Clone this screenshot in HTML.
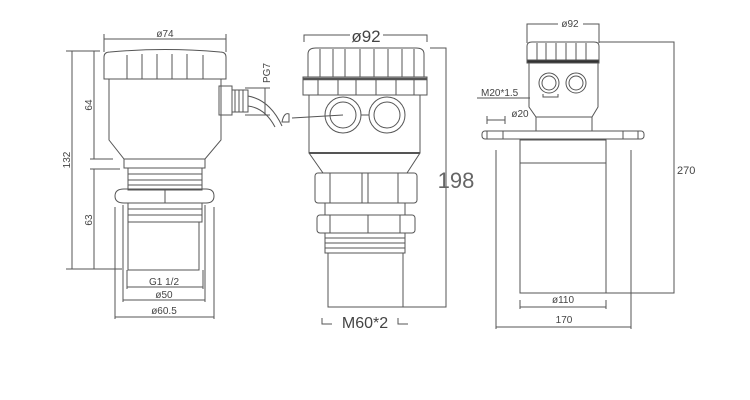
<!DOCTYPE html>
<html><head><meta charset="utf-8"><style>
html,body{margin:0;padding:0;background:#fff;width:750px;height:400px;overflow:hidden}
svg{display:block}
text{font-family:"Liberation Sans",sans-serif;fill:#444}
</style></head><body>
<svg width="750" height="400" viewBox="0 0 750 400" xmlns="http://www.w3.org/2000/svg">
<g fill="none" stroke="#555" stroke-width="1">
<!-- ===== Drawing 1 ===== -->
<line x1="104" y1="39" x2="226" y2="39"/><line x1="104" y1="34" x2="104" y2="52"/><line x1="226" y1="34" x2="226" y2="52"/>
<path d="M104 57 Q104 52 110 52 Q165 47 220 52 Q226 52 226 57 L226 79 L104 79 Z"/>
<path d="M127 55V79M142 54V79M157 54V79M172 54V79M187 54V79M203 55V79"/>
<path d="M109 79 L109 140 L124 159 L205 159 L221 140 L221 79"/>
<rect x="124" y="159" width="81" height="9"/>
<rect x="128" y="168" width="74" height="22"/>
<path d="M128 174H202M128 180H202M128 185H202"/>
<path d="M115 196 Q115 189 124 189 L206 189 Q214 189 214 196 Q214 203 206 203 L124 203 Q115 203 115 196 Z"/>
<line x1="165" y1="189" x2="165" y2="203"/>
<rect x="128" y="203" width="74" height="19"/>
<path d="M128 209H202M128 215H202"/>
<rect x="128" y="222" width="71" height="48"/>
<rect x="219" y="86" width="13" height="29"/>
<rect x="232" y="90" width="16" height="22"/>
<path d="M235 90V112M239 90V112M243 90V112"/>
<path d="M248 96 Q270 100 282 126 M248 106 Q265 108 275 127"/>
<line x1="245" y1="88" x2="270" y2="88"/><line x1="245" y1="115" x2="270" y2="115"/><line x1="265" y1="88" x2="265" y2="115"/>
<line x1="72" y1="51" x2="72" y2="269"/><line x1="66" y1="51" x2="100" y2="51"/><line x1="66" y1="269" x2="122" y2="269"/>
<line x1="94" y1="51" x2="94" y2="159"/><line x1="94" y1="169" x2="94" y2="269"/>
<line x1="90" y1="159" x2="113" y2="159"/><line x1="90" y1="169" x2="120" y2="169"/>
<line x1="127" y1="287" x2="203" y2="287"/><line x1="127" y1="270" x2="127" y2="289"/><line x1="203" y1="270" x2="203" y2="289"/>
<line x1="123" y1="300" x2="205" y2="300"/><line x1="123" y1="205" x2="123" y2="302"/><line x1="205" y1="205" x2="205" y2="302"/>
<line x1="115" y1="317" x2="214" y2="317"/><line x1="115" y1="207" x2="115" y2="319"/><line x1="214" y1="207" x2="214" y2="319"/>
<!-- ===== Drawing 2 ===== -->
<path d="M304 42V35H350M383 35H427V42"/>
<path d="M308 77 L308 54 Q308 48 316 48 L416 48 Q424 48 424 54 L424 77"/>
<path d="M320 49V77M333 49V77M345 49V77M360 49V77M374 49V77M388 49V77M402 49V77M414 49V77"/>
<rect x="303" y="77" width="124" height="18"/>
<line x1="303" y1="79" x2="427" y2="79" stroke-width="2.5"/>
<path d="M318 80V95M338 80V95M356 80V95M376 80V95M396 80V95M414 80V95"/>
<path d="M309 95V153H420V95"/>
<line x1="309" y1="153" x2="420" y2="153" stroke-width="2"/>
<circle cx="343" cy="115" r="18"/><circle cx="343" cy="115" r="13"/>
<circle cx="387" cy="115" r="18"/><circle cx="387" cy="115" r="13"/>
<line x1="361" y1="115" x2="369" y2="115"/>
<path d="M309 153 L323 173 M420 153 L407 173"/>
<rect x="315" y="173" width="102" height="30" rx="3"/>
<path d="M330 173V203M362 173V203M368 173V203M398 173V203"/>
<rect x="325" y="203" width="80" height="12"/>
<rect x="317" y="215" width="98" height="18" rx="3"/>
<path d="M330 215V233M368 215V233M400 215V233"/>
<rect x="325" y="233" width="80" height="20"/>
<path d="M325 238H405M325 243H405M325 248H405"/>
<rect x="328" y="253" width="75" height="54"/>
<line x1="292" y1="118" x2="343" y2="115"/>
<path d="M282 122 Q284 112 289 114 L289 122 Z"/>
<path d="M430 48H446V307H395"/>
<path d="M322 318V324H332M398 318V324H408"/>
<!-- ===== Drawing 3 ===== -->
<path d="M527 43V24H558M583 24H599V43"/>
<path d="M527 60V46Q527 42 532 42H594Q599 42 599 46V60"/>
<path d="M537 43V60M546 43V60M556 43V60M566 43V60M576 43V60M586 43V60"/>
<rect x="527" y="60" width="72" height="3" fill="#333"/>
<path d="M529 63V107L536 117H592L598 107V63"/>
<circle cx="549" cy="83" r="10"/><circle cx="549" cy="83" r="7"/>
<circle cx="576" cy="83" r="10"/><circle cx="576" cy="83" r="7"/>
<path d="M543 94V97H558V94"/>
<line x1="477" y1="98" x2="530" y2="98"/>
<rect x="536" y="117" width="56" height="14"/>
<rect x="482" y="131" width="162" height="8" rx="3"/>
<path d="M487 131V139M503 131V139M623 131V139M638 131V139"/>
<path d="M487 120H505M487 116V124M505 116V124"/>
<rect x="520" y="140" width="86" height="153"/>
<line x1="520" y1="163" x2="606" y2="163"/>
<path d="M599 42H674V293H606"/>
<line x1="520" y1="307" x2="606" y2="307"/><line x1="520" y1="300" x2="520" y2="309"/><line x1="606" y1="300" x2="606" y2="309"/>
<line x1="496" y1="150" x2="496" y2="329"/><line x1="631" y1="150" x2="631" y2="329"/><line x1="496" y1="327" x2="631" y2="327"/>
</g>
<!-- Text -->
<text x="165" y="37" font-size="10" text-anchor="middle">ø74</text>
<text transform="translate(92,105) rotate(-90)" font-size="10" text-anchor="middle">64</text>
<text transform="translate(92,220) rotate(-90)" font-size="10" text-anchor="middle">63</text>
<text transform="translate(70,160) rotate(-90)" font-size="10" text-anchor="middle">132</text>
<text transform="translate(270,73) rotate(-90)" font-size="10" text-anchor="middle">PG7</text>
<text x="164" y="285" font-size="10" text-anchor="middle">G1 1/2</text>
<text x="164" y="298" font-size="10" text-anchor="middle">ø50</text>
<text x="164" y="314" font-size="10" text-anchor="middle">ø60.5</text>
<text x="366" y="42" font-size="17" text-anchor="middle">ø92</text>
<text x="456" y="188" font-size="22" text-anchor="middle" style="fill:#666">198</text>
<text x="365" y="328" font-size="16" text-anchor="middle">M60*2</text>
<text x="570" y="27" font-size="10" text-anchor="middle">ø92</text>
<text x="481" y="96" font-size="10">M20*1.5</text>
<text x="520" y="117" font-size="10" text-anchor="middle">ø20</text>
<text x="677" y="174" font-size="11">270</text>
<text x="563" y="303" font-size="10" text-anchor="middle">ø110</text>
<text x="564" y="323" font-size="10" text-anchor="middle">170</text>
</svg>
</body></html>
